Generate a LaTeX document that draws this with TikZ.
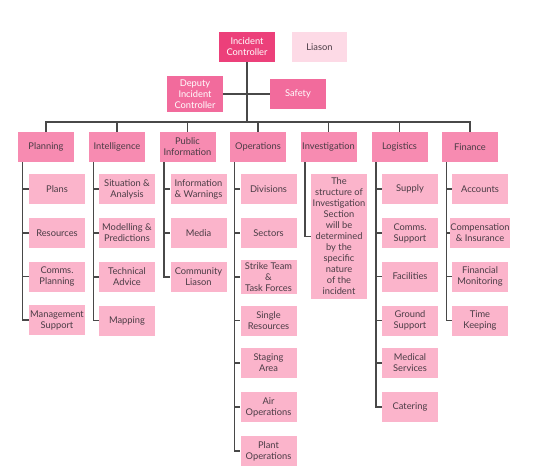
\documentclass[tikz,border=0pt]{standalone}
\usepackage{fontspec}
\setmainfont{Lato}
\definecolor{icpink}{HTML}{EC407A}
\definecolor{dppink}{HTML}{F26B9C}
\definecolor{lvpink}{HTML}{F78BB1}
\definecolor{chpink}{HTML}{FBB4CB}
\definecolor{lipink}{HTML}{FDDAE6}
\definecolor{txt}{HTML}{4A3C45}
\definecolor{ln}{HTML}{484848}
\tikzset{
  box/.style={minimum width=56bp, minimum height=30bp, inner sep=0pt, align=center,
    font=\fontsize{9.3bp}{11bp}\selectfont, text=txt},
  topbox/.style={box, fill=icpink, text=white},
  depbox/.style={box, fill=dppink, text=white},
  lvbox/.style={box, fill=lvpink},
  chbox/.style={box, fill=chpink},
  libox/.style={box, fill=lipink},
  conn/.style={draw=ln, line width=1.2bp},
}
\begin{document}
\begin{tikzpicture}[x=1bp,y=-1bp]
\useasboundingbox (0,0) rectangle (533,468);
% top
\node[topbox] (ic) at (247,47) {Incident\\Controller};
\node[libox, minimum width=55bp] (li) at (319.5,47) {Liason};
\node[depbox, minimum height=36bp] (dep) at (195,94) {Deputy\\Incident\\Controller};
\node[depbox] (saf) at (298,94) {Safety};
\coordinate (bus) at (247,122);
% level 2
\node[lvbox] (pl) at (46,147) {Planning};
\node[lvbox] (in) at (117,147) {Intelligence};
\node[lvbox] (pu) at (187.5,147) {Public\\Information};
\node[lvbox] (op) at (258,147) {Operations};
\node[lvbox] (iv) at (328.5,147) {Investigation};
\node[lvbox] (lo) at (399.5,147) {Logistics};
\node[lvbox] (fi) at (470,147) {Finance};
% planning children
\node[chbox] (pl1) at (57,189) {Plans};
\node[chbox] (pl2) at (57,233) {Resources};
\node[chbox] (pl3) at (57,276.5) {Comms.\\Planning};
\node[chbox] (pl4) at (57,320) {Management\\Support};
% intelligence
\node[chbox] (in1) at (127,189) {Situation \&\\Analysis};
\node[chbox] (in2) at (127,233) {Modelling \&\\Predictions};
\node[chbox] (in3) at (127,277) {Technical\\Advice};
\node[chbox] (in4) at (127,320.5) {Mapping};
% public information
\node[chbox] (pu1) at (198.5,189) {Information\\\& Warnings};
\node[chbox] (pu2) at (198.5,233) {Media};
\node[chbox] (pu3) at (198.5,277) {Community\\Liason};
% operations
\node[chbox] (op1) at (268.5,189) {Divisions};
\node[chbox] (op2) at (268.5,233) {Sectors};
\node[chbox, minimum height=34bp] (op3) at (268.5,277) {Strike Team\\\&\\Task Forces};
\node[chbox] (op4) at (268.5,320.5) {Single\\Resources};
\node[chbox] (op5) at (268.5,363) {Staging\\Area};
\node[chbox] (op6) at (268.5,407) {Air\\Operations};
\node[chbox] (op7) at (268.5,451) {Plant\\Operations};
% investigation
\node[chbox, minimum height=125bp] (iv1) at (339,236.5) {The\\structure of\\Investigation\\Section\\will be\\determined\\by the\\specific\\nature\\of the\\incident};
% logistics
\node[chbox] (lo1) at (410,189) {Supply};
\node[chbox] (lo2) at (410,233) {Comms.\\Support};
\node[chbox] (lo3) at (410,276.5) {Facilities};
\node[chbox] (lo4) at (410,320.5) {Ground\\Support};
\node[chbox] (lo5) at (410,363) {Medical\\Services};
\node[chbox] (lo6) at (410,407) {Catering};
% finance
\node[chbox] (fi1) at (480,189) {Accounts};
\node[chbox] (fi2) at (480,233) {Compensation\\\& Insurance};
\node[chbox] (fi3) at (480,276.5) {Financial\\Monitoring};
\node[chbox] (fi4) at (480,320.5) {Time\\Keeping};
% connectors top
\draw[conn] (ic.south) -- (bus);
\draw[conn] (dep.east) -- (saf.west);
\foreach \n in {pl,in,pu,op,iv,lo,fi}{
  \draw[conn] (\n.north) |- (bus);
}
% children connectors
\foreach \p/\cs in {pl/{pl1,pl2,pl3,pl4}, in/{in1,in2,in3,in4}, pu/{pu1,pu2,pu3},
  op/{op1,op2,op3,op4,op5,op6,op7}, iv/{iv1}, lo/{lo1,lo2,lo3,lo4,lo5,lo6}, fi/{fi1,fi2,fi3,fi4}}{
  \foreach \c in \cs {
    \draw[conn] ([xshift=-23.5bp]\p.south) |- (\c.west);
  }
}
\end{tikzpicture}
\end{document}
